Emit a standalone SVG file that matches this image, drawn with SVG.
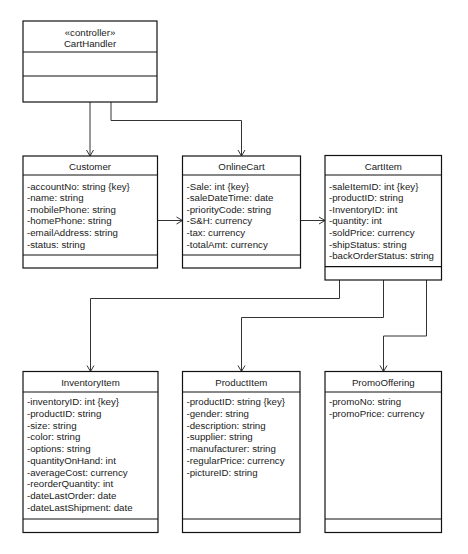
<svg xmlns="http://www.w3.org/2000/svg" width="468" height="554" viewBox="0 0 468 554">
<defs>
<style>
.box{fill:#fff;stroke:#111;stroke-width:1.2}
.div{stroke:#111;stroke-width:1.2}
text{font-family:"Liberation Sans",Arial,sans-serif;font-size:9.7px;fill:#1a1a1a}
.t{text-anchor:middle}
.c{fill:none;stroke:#333;stroke-width:1}
</style>
<marker id="arr" markerUnits="userSpaceOnUse" markerWidth="10" markerHeight="10" refX="7" refY="4" orient="auto" viewBox="0 0 10 8">
<path d="M1,0.5 L7,4 L1,7.5" fill="none" stroke="#333" stroke-width="1"/>
</marker>
</defs>
<rect width="468" height="554" fill="#fff"/>
<g id="connectors">
<path class="c" d="M90,102 V156" marker-end="url(#arr)"/>
<path class="c" d="M111,102 V120.5 H241.5 V156" marker-end="url(#arr)"/>
<path class="c" d="M157.5,220.5 H182.5" marker-end="url(#arr)"/>
<path class="c" d="M300.5,220.5 H325" marker-end="url(#arr)"/>
<path class="c" d="M339.5,280 V298.5 H90.5 V371.5" marker-end="url(#arr)"/>
<path class="c" d="M383.5,280 V317.5 H241.5 V371.5" marker-end="url(#arr)"/>
<path class="c" d="M426.5,280 V336 H383.5 V371.5" marker-end="url(#arr)"/>
</g>
<g id="CartHandler">
<rect class="box" x="23" y="21" width="134" height="81"/>
<line class="div" x1="23" y1="52" x2="157" y2="52"/>
<line class="div" x1="23" y1="76" x2="157" y2="76"/>
<text class="t" x="90" y="35.5">«controller»</text>
<text class="t" x="90" y="46.5">CartHandler</text>
</g>
<g id="Customer">
<rect class="box" x="23" y="156" width="134.5" height="112"/>
<line class="div" x1="23" y1="175" x2="157.5" y2="175"/>
<line class="div" x1="23" y1="255" x2="157.5" y2="255"/>
<text class="t" x="90" y="170">Customer</text>
<text x="27" y="189.5">-accountNo: string {key}</text>
<text x="27" y="201.1">-name: string</text>
<text x="27" y="212.7">-mobilePhone: string</text>
<text x="27" y="224.3">-homePhone: string</text>
<text x="27" y="235.9">-emailAddress: string</text>
<text x="27" y="247.5">-status: string</text>
</g>
<g id="OnlineCart">
<rect class="box" x="182.5" y="156" width="118" height="112"/>
<line class="div" x1="182.5" y1="175" x2="300.5" y2="175"/>
<line class="div" x1="182.5" y1="255" x2="300.5" y2="255"/>
<text class="t" x="241.5" y="170">OnlineCart</text>
<text x="186.5" y="189.5">-Sale: int {key}</text>
<text x="186.5" y="201.1">-saleDateTime: date</text>
<text x="186.5" y="212.7">-priorityCode: string</text>
<text x="186.5" y="224.3">-S&amp;H: currency</text>
<text x="186.5" y="235.9">-tax: currency</text>
<text x="186.5" y="247.5">-totalAmt: currency</text>
</g>
<g id="CartItem">
<rect class="box" x="325" y="155.5" width="116.5" height="124.5"/>
<line class="div" x1="325" y1="175" x2="441.5" y2="175"/>
<line class="div" x1="325" y1="266.7" x2="441.5" y2="266.7"/>
<text class="t" x="383.3" y="170">CartItem</text>
<text x="329" y="189.5">-saleItemID: int {key}</text>
<text x="329" y="201.1">-productID: string</text>
<text x="329" y="212.7">-InventoryID: int</text>
<text x="329" y="224.3">-quantity: int</text>
<text x="329" y="235.9">-soldPrice: currency</text>
<text x="329" y="247.5">-shipStatus: string</text>
<text x="329" y="259.1">-backOrderStatus: string</text>
</g>
<g id="InventoryItem">
<rect class="box" x="23" y="371.5" width="135" height="161"/>
<line class="div" x1="23" y1="392" x2="158" y2="392"/>
<line class="div" x1="23" y1="519" x2="158" y2="519"/>
<text class="t" x="90.5" y="386">InventoryItem</text>
<text x="27" y="405.3">-inventoryID: int {key}</text>
<text x="27" y="417">-productID: string</text>
<text x="27" y="428.7">-size: string</text>
<text x="27" y="440.4">-color: string</text>
<text x="27" y="452.1">-options: string</text>
<text x="27" y="463.8">-quantityOnHand: int</text>
<text x="27" y="475.5">-averageCost: currency</text>
<text x="27" y="487.2">-reorderQuantity: int</text>
<text x="27" y="498.9">-dateLastOrder: date</text>
<text x="27" y="510.6">-dateLastShipment: date</text>
</g>
<g id="ProductItem">
<rect class="box" x="182.5" y="371.5" width="117.5" height="161"/>
<line class="div" x1="182.5" y1="392" x2="300" y2="392"/>
<line class="div" x1="182.5" y1="519" x2="300" y2="519"/>
<text class="t" x="241.3" y="386">ProductItem</text>
<text x="186.5" y="405.3">-productID: string {key}</text>
<text x="186.5" y="417">-gender: string</text>
<text x="186.5" y="428.7">-description: string</text>
<text x="186.5" y="440.4">-supplier: string</text>
<text x="186.5" y="452.1">-manufacturer: string</text>
<text x="186.5" y="463.8">-regularPrice: currency</text>
<text x="186.5" y="475.5">-pictureID: string</text>
</g>
<g id="PromoOffering">
<rect class="box" x="325" y="371.5" width="116.5" height="161"/>
<line class="div" x1="325" y1="392" x2="441.5" y2="392"/>
<line class="div" x1="325" y1="519" x2="441.5" y2="519"/>
<text class="t" x="383.3" y="386">PromoOffering</text>
<text x="329" y="405.3">-promoNo: string</text>
<text x="329" y="417">-promoPrice: currency</text>
</g>
</svg>
